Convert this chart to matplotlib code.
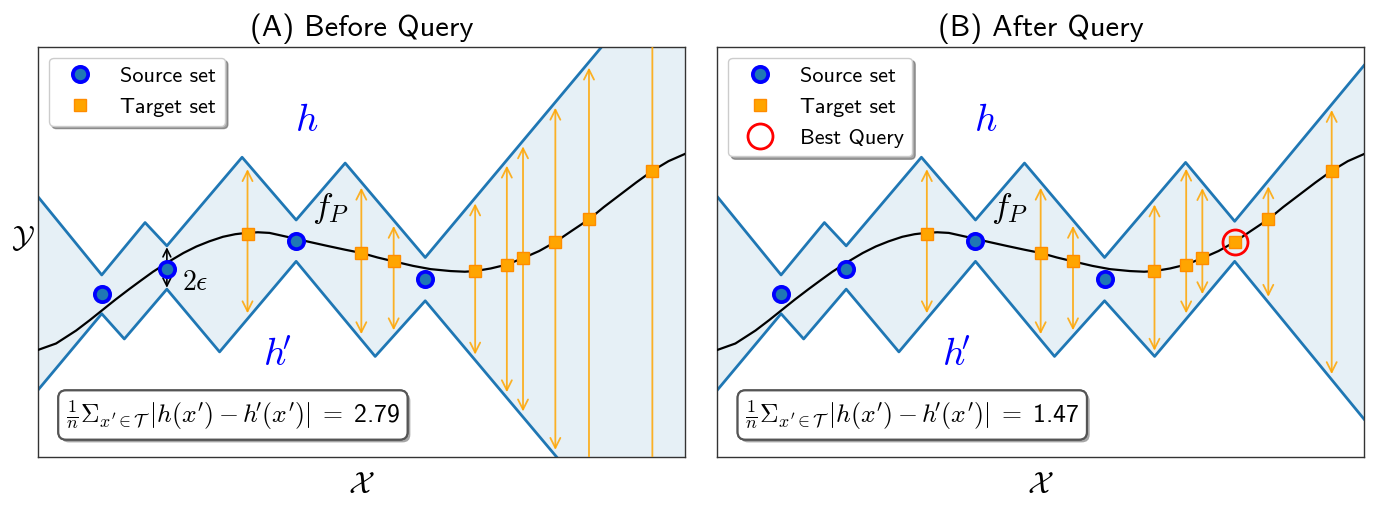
import matplotlib.pyplot as plt
import matplotlib.patheffects as pe
import numpy as np
from matplotlib.patches import FancyArrowPatch

plt.rcParams['font.family'] = 'cmss10'
plt.rcParams['mathtext.fontset'] = 'cm'
plt.rcParams['axes.unicode_minus'] = False

# true function f_P
fx = [0.0, 0.28, 0.59, 0.8, 1.0, 1.2, 1.41, 1.6, 1.78, 2.03, 2.25, 2.45, 2.65, 2.86,
      3.05, 3.22, 3.4, 3.58, 3.76, 3.94, 4.2, 4.47, 4.75, 5.0, 5.25, 5.5, 5.8,
      6.07, 6.38, 6.6, 6.76, 7.0, 7.25, 7.5, 7.75, 8.0, 8.25, 8.52, 8.75, 9.0,
      9.25, 9.5, 9.75, 10.0]
fy = [1.66, 1.76, 1.96, 2.12, 2.28, 2.44, 2.60, 2.74, 2.87, 3.03, 3.16, 3.26, 3.34, 3.41,
      3.45, 3.47, 3.48, 3.47, 3.43, 3.39, 3.33, 3.27, 3.21, 3.16, 3.09, 3.03, 2.96,
      2.91, 2.88, 2.87, 2.88, 2.92, 2.98, 3.08, 3.19, 3.33, 3.50, 3.68, 3.87, 4.06,
      4.25, 4.43, 4.58, 4.69]

# labelled source points
src_x = [0.99, 1.99, 3.99, 5.99]
src_y = [2.53, 2.91, 3.34, 2.75]

# unlabelled target points
tgt_x = [3.24, 5.0, 5.5, 6.76, 7.25, 7.5, 8.0, 8.52, 9.5]
tgt_y = [3.46, 3.16, 3.03, 2.88, 2.98, 3.08, 3.33, 3.68, 4.43]
query = 6  # index of the best query in the target set

# h (upper) and h' (lower) before the query
h_x_a = [0, 0.986, 1.656, 1.993, 3.156, 3.992, 4.75, 5.988, 10.0]
h_y_a = [4.03, 2.82, 3.63, 3.27, 4.64, 3.67, 4.55, 3.09, 7.88]
hp_x_a = [0, 0.986, 1.335, 1.993, 2.808, 3.992, 5.214, 5.988, 10.0]
hp_y_a = [1.04, 2.22, 1.83, 2.60, 1.63, 3.03, 1.56, 2.42, -2.35]

# h and h' after the query
h_x_b = [0, 0.986, 1.656, 1.993, 3.156, 3.992, 4.75, 5.988, 7.241, 8.0, 10.0]
h_y_b = [4.03, 2.82, 3.63, 3.27, 4.64, 3.67, 4.55, 3.09, 4.56, 3.65, 6.06]
hp_x_b = [0, 0.986, 1.335, 1.993, 2.808, 3.992, 5.214, 5.988, 6.762, 8.0, 10.0]
hp_y_b = [1.04, 2.22, 1.83, 2.60, 1.63, 3.03, 1.56, 2.42, 1.56, 3.03, 0.59]

titles = ['(A) Before Query', '(B) After Query']
scores = ['2.79', '1.47']

line_c = '#1f77b4'


def draw_panel(ax, hx, hy, lx, ly, title, score, after):
    ax.fill(np.concatenate([hx, lx[::-1]]), np.concatenate([hy, ly[::-1]]),
            color=line_c, alpha=0.11, lw=0, zorder=1)
    ax.plot(hx, hy, color=line_c, lw=2, zorder=2)
    ax.plot(lx, ly, color=line_c, lw=2, zorder=2)
    ax.plot(fx, fy, color='black', lw=1.6, zorder=3)

    # disagreement arrows at the target points
    for i, x in enumerate(tgt_x):
        if after and i == query:
            continue
        top = np.interp(x, hx, hy)
        bot = np.interp(x, lx, ly)
        arr = FancyArrowPatch((x, bot), (x, top), arrowstyle='<->',
                              mutation_scale=18, color='orange', alpha=0.85,
                              lw=1.3, shrinkA=4, shrinkB=4, zorder=4)
        ax.add_patch(arr)

    ax.plot(src_x, src_y, 'o', ms=11, mfc='#1f77b4', mec='blue', mew=2.7,
            ls='none', zorder=6, label='Source set')
    ax.plot(tgt_x, tgt_y, 's', ms=9, mfc='orange', mec='darkorange', mew=1,
            ls='none', zorder=6, label='Target set')
    if after:
        ax.plot(tgt_x[query], tgt_y[query], 'o', ms=18, mfc='none', mec='red',
                mew=2, ls='none', zorder=7, label='Best Query')

    ax.text(4.15, 5.19, r'$h$', color='blue', fontsize=28, ha='center', va='center')
    ax.text(3.70, 1.56, r"$h^{\!\!\prime}$", color='blue', fontsize=28, ha='center', va='center')
    ax.text(4.52, 3.85, r'$f_P$', color='black', fontsize=25, ha='center', va='center')

    t = ax.text(0.0433, 0.103,
                r"$\frac{1}{n}\Sigma_{x'\in\mathcal{T}}\,|h(x')-h^{\!\!\prime}(x')|\;=\;$" + score,
                transform=ax.transAxes, fontsize=18.5, ha='left', va='center', zorder=8,
                bbox=dict(boxstyle='round,pad=0.3', fc='white', ec='#555555', lw=1.5))
    t.get_bbox_patch().set_path_effects([pe.withSimplePatchShadow(offset=(2, -2), shadow_rgbFace='gray', alpha=0.7),
                                         pe.Normal()])

    ax.legend(loc='upper left', fontsize=16, fancybox=True, shadow=True,
              framealpha=1, edgecolor='#cccccc')

    ax.set_xlim(0, 10)
    ax.set_ylim(0, 6.35)
    ax.set_xticks([])
    ax.set_yticks([])
    for s in ax.spines.values():
        s.set_linewidth(1.0)
        s.set_color('#333333')
    ax.set_title(title, fontsize=22, pad=8)
    ax.set_xlabel(r'$\mathcal{X}$', fontsize=22, va='center')
    ax.xaxis.set_label_coords(0.5, -0.068)


fig = plt.figure(figsize=(13.76, 5.16), dpi=100)
ax1 = fig.add_axes([0.0276, 0.1138, 0.4700, 0.7957])
ax2 = fig.add_axes([0.5213, 0.1138, 0.4700, 0.7957])

draw_panel(ax1, h_x_a, h_y_a, hp_x_a, hp_y_a, titles[0], scores[0], False)
draw_panel(ax2, h_x_b, h_y_b, hp_x_b, hp_y_b, titles[1], scores[1], True)

# 2 epsilon gap marker on the left panel
x_eps = h_x_a[3]
eps_arrow = FancyArrowPatch((x_eps, hp_y_a[3]), (x_eps, h_y_a[3]), arrowstyle='<->',
                            mutation_scale=14, color='black', lw=1.2,
                            shrinkA=1, shrinkB=1, zorder=5)
ax1.add_patch(eps_arrow)
ax1.text(2.22, 2.70, r'$2\epsilon$', fontsize=20, ha='left', va='center')

ax1.set_ylabel(r'$\mathcal{Y}$', fontsize=22, rotation=0, ha='center', va='center')
ax1.yaxis.set_label_coords(-0.023, 0.533)

fig.savefig('out.png', dpi=100)
